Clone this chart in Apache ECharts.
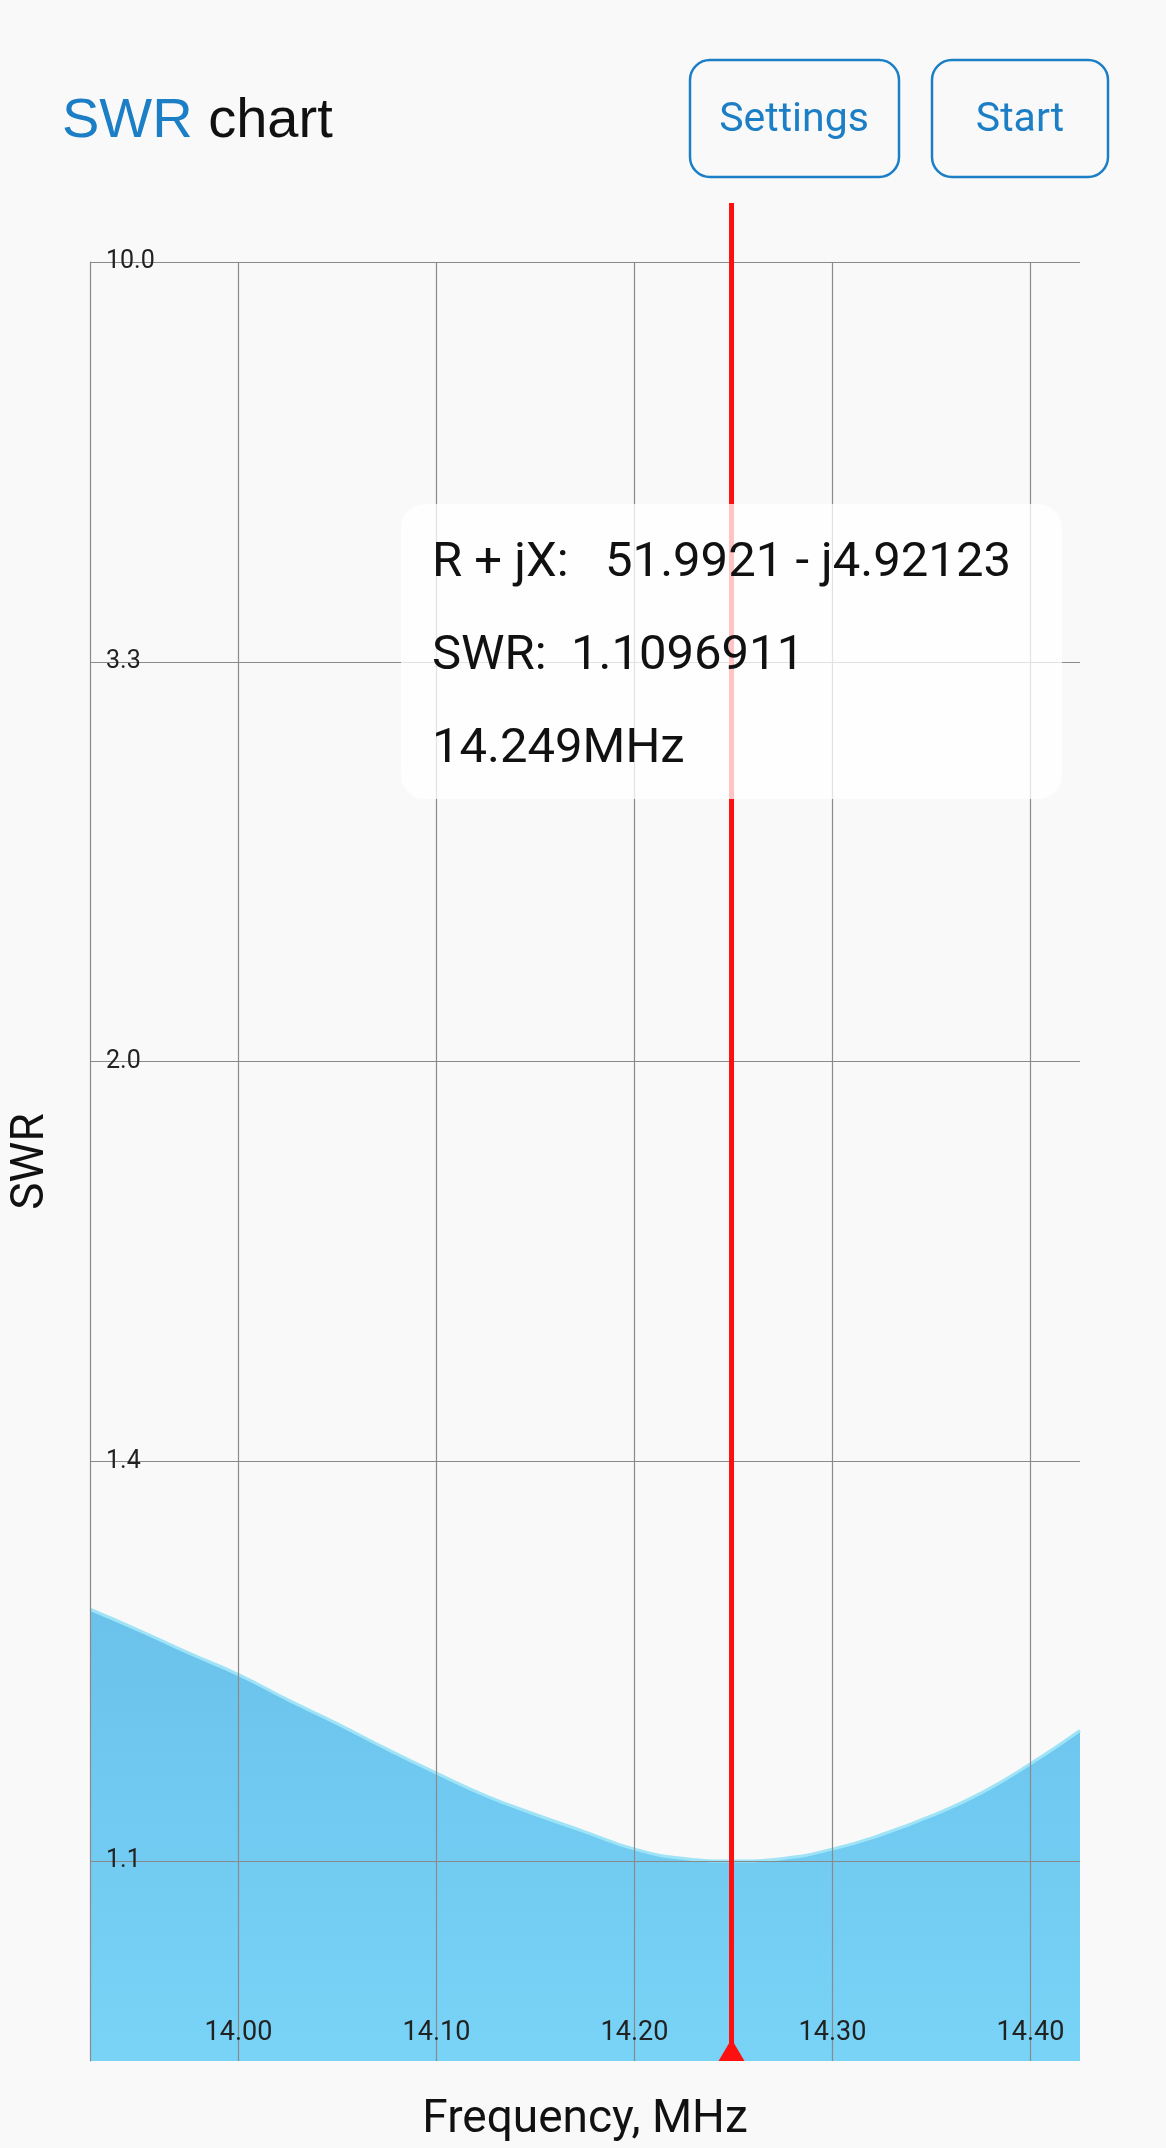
<!DOCTYPE html>
<html><head><meta charset="utf-8">
<script src="https://cdn.jsdelivr.net/npm/echarts@6/dist/echarts.min.js"></script>
<style>html,body{margin:0;background:#f9f9f9}#c{width:1166px;height:2148px}</style>
</head><body><div id="c"></div>
<script>
// 频率 / SWR 数据
const freqs = [13.925,13.95,13.975,14.00,14.025,14.05,14.075,14.10,14.125,14.15,14.175,14.20,14.225,14.25,14.275,14.30,14.325,14.35,14.375,14.40,14.425];
const swr = [1.289,1.273,1.256,1.240,1.221,1.203,1.184,1.166,1.149,1.135,1.122,1.109,1.102,1.100,1.102,1.109,1.120,1.134,1.151,1.173,1.198];
const swrTicks = [1.0, 1.1, 1.4, 2.0, 3.3, 10.0]; // 1.0 为底部
const swrLabels = ['1.1','1.4','2.0','3.3','10.0'];
const freqTicks = [14.00,14.10,14.20,14.30,14.40];
const cursorFreq = 14.249;
const infoLines = ['R + jX:   51.9921 - j4.92123', 'SWR:  1.1096911', '14.249MHz'];

// SWR -> 轴上等距位置（-0.5 为底部）
const toPos = v => {
    for (let i = 0; i < swrTicks.length - 1; i++) {
        if (v <= swrTicks[i + 1]) {
            const t = (v - swrTicks[i]) / (swrTicks[i + 1] - swrTicks[i]);
            return i === 0 ? -0.5 + t * 0.5 : (i - 1) + t;
        }
    }
    return 4;
};

const chart = echarts.init(document.getElementById('c'));
const gridLine = {color: '#8a8a8a', width: 1.2, type: 'solid'};
chart.setOption({
    animation: false,
    backgroundColor: '#f9f9f9',
    textStyle: {fontFamily: 'Roboto, "Noto Sans", sans-serif'},
    grid: {left: 90, right: 86, top: 262, bottom: 83 - 18},
    xAxis: {
        type: 'value', min: 13.925, max: 14.425, z: 10,
        name: 'Frequency, MHz', nameLocation: 'middle', nameGap: 36,
        nameTextStyle: {fontSize: 46, color: '#111'},
        axisLine: {show: false}, axisTick: {show: false}, splitLine: {show: false},
        axisLabel: {inside: true, customValues: freqTicks, fontSize: 27, color: '#222', margin: 14,
            formatter: v => v.toFixed(2)}
    },
    yAxis: {
        type: 'value', min: -0.5, max: 4, z: 10,
        name: 'SWR', nameLocation: 'middle', nameGap: 36, nameRotate: 90,
        nameTextStyle: {fontSize: 46, color: '#111'},
        axisLine: {show: true, lineStyle: {color: '#8a8a8a', width: 1.2}},
        axisTick: {show: false}, splitLine: {show: false},
        axisLabel: {inside: true, customValues: [0,1,2,3,4], fontSize: 25, color: '#222',
            verticalAlign: 'middle', padding: [0, 0, 8, 0], margin: 16, formatter: v => swrLabels[Math.round(v)] || ''}
    },
    series: [{
        type: 'line', smooth: true, showSymbol: false,
        data: freqs.map((f, i) => [f, toPos(swr[i])]),
        lineStyle: {color: '#9fe3f7', width: 3},
        areaStyle: {opacity: 0.92, origin: 'start', color: new echarts.graphic.LinearGradient(0, 0, 0, 1,
            [{offset: 0, color: '#5ebdea'}, {offset: 1, color: '#6dd0f7'}])},
        z: 1,
        markLine: {
            silent: true, symbol: 'none', label: {show: false},
            lineStyle: gridLine, z: 3,
            data: [0,1,2,3,4].map(p => ({yAxis: p})).concat(freqTicks.map(f => ({xAxis: f})))
        }
    }]
});

// 光标线、信息框、按钮
const yTop = chart.convertToPixel({yAxisIndex: 0}, 4);
const yBottom = chart.convertToPixel({yAxisIndex: 0}, -0.5);
const cx = chart.convertToPixel({xAxisIndex: 0}, cursorFreq);
chart.setOption({graphic: [
    {type: 'line', shape: {x1: cx, y1: yTop - 59, x2: cx, y2: yBottom}, style: {stroke: '#ff1010', lineWidth: 5}, z: 10},
    {type: 'polygon', shape: {points: [[cx - 13, yBottom], [cx + 13, yBottom], [cx, yBottom - 22]]}, style: {fill: '#ff1010'}, z: 10},
    {type: 'rect', shape: {x: 401, y: 504, width: 661, height: 295, r: 24}, style: {fill: 'rgba(255,255,255,0.75)'}, z: 11},
    ...infoLines.map((t, i) => ({type: 'text', x: 432, y: 564 + i * 93, style: {text: t, fontSize: 49, fill: '#111', verticalAlign: 'middle', fontFamily: 'Roboto, sans-serif'}, z: 12})),
    {type: 'text', x: 62, y: 122, style: {rich: {a: {fill: '#1c7fc6', fontSize: 56}, b: {fill: '#111', fontSize: 56}}, text: '{a|SWR}{b| chart}', verticalAlign: 'middle', fontFamily: 'Roboto, sans-serif'}},
    {type: 'rect', shape: {x: 690, y: 60, width: 209, height: 117, r: 20}, style: {fill: 'none', stroke: '#1c7fc6', lineWidth: 2.5}},
    {type: 'text', x: 794, y: 121, style: {text: 'Settings', fontSize: 41, fill: '#1c7fc6', align: 'center', verticalAlign: 'middle', fontFamily: 'Roboto, sans-serif'}},
    {type: 'rect', shape: {x: 932, y: 60, width: 176, height: 117, r: 20}, style: {fill: 'none', stroke: '#1c7fc6', lineWidth: 2.5}},
    {type: 'text', x: 1020, y: 121, style: {text: 'Start', fontSize: 41, fill: '#1c7fc6', align: 'center', verticalAlign: 'middle', fontFamily: 'Roboto, sans-serif'}}
]});
</script></body></html>
